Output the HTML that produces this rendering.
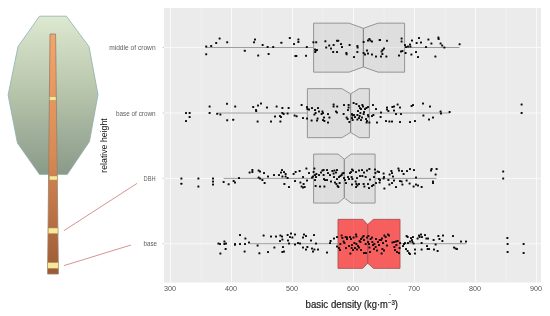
<!DOCTYPE html>
<html><head><meta charset="utf-8"><title>basic density by relative height</title><style>html,body{margin:0;padding:0;background:#fff}svg{display:block}</style></head><body>
<svg width="550" height="316" viewBox="0 0 550 316">
<defs><linearGradient id="cg" x1="0" y1="0" x2="0" y2="1"><stop offset="0" stop-color="#dde9d0"/><stop offset="0.45" stop-color="#b9c7ad"/><stop offset="1" stop-color="#8a9a89"/></linearGradient>
<linearGradient id="tg" x1="0" y1="0" x2="0" y2="1"><stop offset="0" stop-color="#f6a469"/><stop offset="0.5" stop-color="#d98a55"/><stop offset="1" stop-color="#9c5a35"/></linearGradient></defs>
<rect width="550" height="316" fill="#fff"/>
<polygon points="39.5,16.2 66.4,16.2 89,46.6 98,94.6 89.5,141.5 67.3,174.4 39.5,174.4 17.4,143 8.1,95 18,46.6" fill="url(#cg)" stroke="#8fb0ad" stroke-width="0.8"/>
<polygon points="50,34 55.6,34 58.4,274 47.6,274" fill="url(#tg)" stroke="#94806c" stroke-width="0.8"/>
<rect x="49.7" y="96.7" width="6.3" height="3.7" fill="#fbe79a" stroke="#a89468" stroke-width="0.5"/>
<rect x="49.4" y="176" width="7.8" height="4.0" fill="#fbe79a" stroke="#a89468" stroke-width="0.5"/>
<rect x="48.2" y="228" width="9.8" height="5.6" fill="#fbe79a" stroke="#a89468" stroke-width="0.5"/>
<rect x="47.6" y="262.6" width="10.8" height="5.8" fill="#fbe79a" stroke="#a89468" stroke-width="0.5"/>
<line x1="64" y1="230.6" x2="137" y2="183.4" stroke="#cf8888" stroke-width="0.9"/>
<line x1="64" y1="265.6" x2="131" y2="245" stroke="#cf8888" stroke-width="0.9"/>
<rect x="164" y="8" width="377" height="274.5" fill="#ebebeb"/>
<line x1="201.0" y1="8" x2="201.0" y2="282.5" stroke="#f3f3f3" stroke-width="0.6"/>
<line x1="262.0" y1="8" x2="262.0" y2="282.5" stroke="#f3f3f3" stroke-width="0.6"/>
<line x1="323.0" y1="8" x2="323.0" y2="282.5" stroke="#f3f3f3" stroke-width="0.6"/>
<line x1="384.0" y1="8" x2="384.0" y2="282.5" stroke="#f3f3f3" stroke-width="0.6"/>
<line x1="445.0" y1="8" x2="445.0" y2="282.5" stroke="#f3f3f3" stroke-width="0.6"/>
<line x1="506.0" y1="8" x2="506.0" y2="282.5" stroke="#f3f3f3" stroke-width="0.6"/>
<line x1="170.5" y1="8" x2="170.5" y2="282.5" stroke="#fafafa" stroke-width="0.9"/>
<line x1="231.5" y1="8" x2="231.5" y2="282.5" stroke="#fafafa" stroke-width="0.9"/>
<line x1="292.5" y1="8" x2="292.5" y2="282.5" stroke="#fafafa" stroke-width="0.9"/>
<line x1="353.5" y1="8" x2="353.5" y2="282.5" stroke="#fafafa" stroke-width="0.9"/>
<line x1="414.5" y1="8" x2="414.5" y2="282.5" stroke="#fafafa" stroke-width="0.9"/>
<line x1="475.5" y1="8" x2="475.5" y2="282.5" stroke="#fafafa" stroke-width="0.9"/>
<line x1="536.5" y1="8" x2="536.5" y2="282.5" stroke="#fafafa" stroke-width="0.9"/>
<line x1="164" y1="47.5" x2="541" y2="47.5" stroke="#fafafa" stroke-width="0.9"/>
<line x1="162.6" y1="47.5" x2="164" y2="47.5" stroke="#a8a8a8" stroke-width="0.6"/>
<line x1="164" y1="113.0" x2="541" y2="113.0" stroke="#fafafa" stroke-width="0.9"/>
<line x1="162.6" y1="113.0" x2="164" y2="113.0" stroke="#a8a8a8" stroke-width="0.6"/>
<line x1="164" y1="178.4" x2="541" y2="178.4" stroke="#fafafa" stroke-width="0.9"/>
<line x1="162.6" y1="178.4" x2="164" y2="178.4" stroke="#a8a8a8" stroke-width="0.6"/>
<line x1="164" y1="243.7" x2="541" y2="243.7" stroke="#fafafa" stroke-width="0.9"/>
<line x1="162.6" y1="243.7" x2="164" y2="243.7" stroke="#a8a8a8" stroke-width="0.6"/>
<line x1="205.6" y1="47.5" x2="313.6" y2="47.5" stroke="#868686" stroke-width="0.8"/>
<line x1="404.6" y1="47.5" x2="459.5" y2="47.5" stroke="#868686" stroke-width="0.8"/>
<polygon points="313.6,23.15 349,23.15 363.4,28.349999999999998 378,23.15 404.6,23.15 404.6,72.15 378,72.15 363.4,66.95 349,72.15 313.6,72.15" fill="#bebebe" fill-opacity="0.27" stroke="#8c8c8c" stroke-width="0.9"/>
<line x1="363.4" y1="28.349999999999998" x2="363.4" y2="66.95" stroke="#8c8c8c" stroke-width="1.2"/>
<line x1="218" y1="113.0" x2="307.4" y2="113.0" stroke="#868686" stroke-width="0.8"/>
<line x1="369.4" y1="113.0" x2="449.8" y2="113.0" stroke="#868686" stroke-width="0.8"/>
<polygon points="307.4,88.65 342,88.65 350.6,93.85000000000001 359.2,88.65 369.4,88.65 369.4,137.65 359.2,137.65 350.6,132.45000000000002 342,137.65 307.4,137.65" fill="#bebebe" fill-opacity="0.27" stroke="#8c8c8c" stroke-width="0.9"/>
<line x1="350.6" y1="93.85000000000001" x2="350.6" y2="132.45000000000002" stroke="#8c8c8c" stroke-width="1.2"/>
<line x1="223.6" y1="178.4" x2="313.6" y2="178.4" stroke="#868686" stroke-width="0.8"/>
<line x1="375.1" y1="178.4" x2="436.5" y2="178.4" stroke="#868686" stroke-width="0.8"/>
<polygon points="313.6,154.05 338,154.05 344.3,159.25 351.2,154.05 375.1,154.05 375.1,203.05 351.2,203.05 344.3,197.85000000000002 338,203.05 313.6,203.05" fill="#bebebe" fill-opacity="0.27" stroke="#8c8c8c" stroke-width="0.9"/>
<line x1="344.3" y1="159.25" x2="344.3" y2="197.85000000000002" stroke="#8c8c8c" stroke-width="1.2"/>
<line x1="250" y1="243.7" x2="338" y2="243.7" stroke="#868686" stroke-width="0.8"/>
<line x1="400" y1="243.7" x2="466.4" y2="243.7" stroke="#868686" stroke-width="0.8"/>
<polygon points="338,219.35 362.8,219.35 367.7,224.54999999999998 373.4,219.35 400,219.35 400,268.35 373.4,268.35 367.7,263.15000000000003 362.8,268.35 338,268.35" fill="#ff0000" fill-opacity="0.6" stroke="#a85350" stroke-width="0.9"/>
<line x1="367.7" y1="224.54999999999998" x2="367.7" y2="263.15000000000003" stroke="#a85350" stroke-width="1.2"/>
<rect x="205.2" y="45.6" width="2" height="2" rx="0.5" fill="#0c0c0c"/>
<rect x="205.2" y="53.2" width="2" height="2" rx="0.5" fill="#0c0c0c"/>
<rect x="210.2" y="45.0" width="2" height="2" rx="0.5" fill="#0c0c0c"/>
<rect x="215.2" y="42.0" width="2" height="2" rx="0.5" fill="#0c0c0c"/>
<rect x="218.6" y="37.6" width="2" height="2" rx="0.5" fill="#0c0c0c"/>
<rect x="226.2" y="41.2" width="2" height="2" rx="0.5" fill="#0c0c0c"/>
<rect x="243.8" y="49.8" width="2" height="2" rx="0.5" fill="#0c0c0c"/>
<rect x="253.0" y="41.2" width="2" height="2" rx="0.5" fill="#0c0c0c"/>
<rect x="254.0" y="38.6" width="2" height="2" rx="0.5" fill="#0c0c0c"/>
<rect x="257.2" y="54.4" width="2" height="2" rx="0.5" fill="#0c0c0c"/>
<rect x="261.6" y="44.0" width="2" height="2" rx="0.5" fill="#0c0c0c"/>
<rect x="266.6" y="46.0" width="2" height="2" rx="0.5" fill="#0c0c0c"/>
<rect x="267.6" y="53.0" width="2" height="2" rx="0.5" fill="#0c0c0c"/>
<rect x="272.2" y="46.0" width="2" height="2" rx="0.5" fill="#0c0c0c"/>
<rect x="280.4" y="41.8" width="2" height="2" rx="0.5" fill="#0c0c0c"/>
<rect x="288.8" y="37.0" width="2" height="2" rx="0.5" fill="#0c0c0c"/>
<rect x="293.0" y="43.0" width="2" height="2" rx="0.5" fill="#0c0c0c"/>
<rect x="297.4" y="38.4" width="2" height="2" rx="0.5" fill="#0c0c0c"/>
<rect x="297.4" y="41.0" width="2" height="2" rx="0.5" fill="#0c0c0c"/>
<rect x="305.8" y="46.0" width="2" height="2" rx="0.5" fill="#0c0c0c"/>
<rect x="294.4" y="55.0" width="2" height="2" rx="0.5" fill="#0c0c0c"/>
<rect x="295.4" y="55.0" width="2" height="2" rx="0.5" fill="#0c0c0c"/>
<rect x="305.0" y="54.8" width="2" height="2" rx="0.5" fill="#0c0c0c"/>
<rect x="312.4" y="41.2" width="2" height="2" rx="0.5" fill="#0c0c0c"/>
<rect x="315.2" y="41.2" width="2" height="2" rx="0.5" fill="#0c0c0c"/>
<rect x="314.0" y="48.6" width="2" height="2" rx="0.5" fill="#0c0c0c"/>
<rect x="315.0" y="49.4" width="2" height="2" rx="0.5" fill="#0c0c0c"/>
<rect x="316.0" y="49.0" width="2" height="2" rx="0.5" fill="#0c0c0c"/>
<rect x="314.2" y="51.0" width="2" height="2" rx="0.5" fill="#0c0c0c"/>
<rect x="324.4" y="40.2" width="2" height="2" rx="0.5" fill="#0c0c0c"/>
<rect x="325.2" y="46.4" width="2" height="2" rx="0.5" fill="#0c0c0c"/>
<rect x="328.2" y="44.6" width="2" height="2" rx="0.5" fill="#0c0c0c"/>
<rect x="330.0" y="47.4" width="2" height="2" rx="0.5" fill="#0c0c0c"/>
<rect x="332.6" y="44.0" width="2" height="2" rx="0.5" fill="#0c0c0c"/>
<rect x="336.0" y="39.8" width="2" height="2" rx="0.5" fill="#0c0c0c"/>
<rect x="337.2" y="39.8" width="2" height="2" rx="0.5" fill="#0c0c0c"/>
<rect x="340.0" y="43.0" width="2" height="2" rx="0.5" fill="#0c0c0c"/>
<rect x="341.0" y="46.0" width="2" height="2" rx="0.5" fill="#0c0c0c"/>
<rect x="332.2" y="51.0" width="2" height="2" rx="0.5" fill="#0c0c0c"/>
<rect x="336.0" y="51.0" width="2" height="2" rx="0.5" fill="#0c0c0c"/>
<rect x="345.4" y="52.0" width="2" height="2" rx="0.5" fill="#0c0c0c"/>
<rect x="345.6" y="53.2" width="2" height="2" rx="0.5" fill="#0c0c0c"/>
<rect x="348.6" y="44.0" width="2" height="2" rx="0.5" fill="#0c0c0c"/>
<rect x="353.0" y="56.0" width="2" height="2" rx="0.5" fill="#0c0c0c"/>
<rect x="356.4" y="45.0" width="2" height="2" rx="0.5" fill="#0c0c0c"/>
<rect x="356.6" y="46.6" width="2" height="2" rx="0.5" fill="#0c0c0c"/>
<rect x="356.4" y="51.0" width="2" height="2" rx="0.5" fill="#0c0c0c"/>
<rect x="362.6" y="41.0" width="2" height="2" rx="0.5" fill="#0c0c0c"/>
<rect x="362.6" y="52.0" width="2" height="2" rx="0.5" fill="#0c0c0c"/>
<rect x="364.0" y="53.4" width="2" height="2" rx="0.5" fill="#0c0c0c"/>
<rect x="366.0" y="49.4" width="2" height="2" rx="0.5" fill="#0c0c0c"/>
<rect x="367.0" y="52.4" width="2" height="2" rx="0.5" fill="#0c0c0c"/>
<rect x="367.0" y="39.4" width="2" height="2" rx="0.5" fill="#0c0c0c"/>
<rect x="368.4" y="38.0" width="2" height="2" rx="0.5" fill="#0c0c0c"/>
<rect x="369.4" y="39.4" width="2" height="2" rx="0.5" fill="#0c0c0c"/>
<rect x="371.0" y="40.4" width="2" height="2" rx="0.5" fill="#0c0c0c"/>
<rect x="371.0" y="53.6" width="2" height="2" rx="0.5" fill="#0c0c0c"/>
<rect x="375.0" y="55.4" width="2" height="2" rx="0.5" fill="#0c0c0c"/>
<rect x="378.6" y="39.0" width="2" height="2" rx="0.5" fill="#0c0c0c"/>
<rect x="379.0" y="39.0" width="2" height="2" rx="0.5" fill="#0c0c0c"/>
<rect x="386.0" y="39.8" width="2" height="2" rx="0.5" fill="#0c0c0c"/>
<rect x="383.0" y="47.6" width="2" height="2" rx="0.5" fill="#0c0c0c"/>
<rect x="381.6" y="49.0" width="2" height="2" rx="0.5" fill="#0c0c0c"/>
<rect x="380.6" y="50.6" width="2" height="2" rx="0.5" fill="#0c0c0c"/>
<rect x="381.4" y="53.0" width="2" height="2" rx="0.5" fill="#0c0c0c"/>
<rect x="380.0" y="55.6" width="2" height="2" rx="0.5" fill="#0c0c0c"/>
<rect x="385.4" y="55.6" width="2" height="2" rx="0.5" fill="#0c0c0c"/>
<rect x="400.6" y="37.4" width="2" height="2" rx="0.5" fill="#0c0c0c"/>
<rect x="400.6" y="40.6" width="2" height="2" rx="0.5" fill="#0c0c0c"/>
<rect x="398.0" y="54.6" width="2" height="2" rx="0.5" fill="#0c0c0c"/>
<rect x="400.0" y="50.6" width="2" height="2" rx="0.5" fill="#0c0c0c"/>
<rect x="401.4" y="50.0" width="2" height="2" rx="0.5" fill="#0c0c0c"/>
<rect x="404.0" y="44.0" width="2" height="2" rx="0.5" fill="#0c0c0c"/>
<rect x="405.0" y="46.0" width="2" height="2" rx="0.5" fill="#0c0c0c"/>
<rect x="404.6" y="52.0" width="2" height="2" rx="0.5" fill="#0c0c0c"/>
<rect x="407.0" y="45.4" width="2" height="2" rx="0.5" fill="#0c0c0c"/>
<rect x="409.0" y="43.6" width="2" height="2" rx="0.5" fill="#0c0c0c"/>
<rect x="409.4" y="45.4" width="2" height="2" rx="0.5" fill="#0c0c0c"/>
<rect x="410.4" y="53.4" width="2" height="2" rx="0.5" fill="#0c0c0c"/>
<rect x="411.0" y="39.4" width="2" height="2" rx="0.5" fill="#0c0c0c"/>
<rect x="415.6" y="42.0" width="2" height="2" rx="0.5" fill="#0c0c0c"/>
<rect x="415.0" y="51.0" width="2" height="2" rx="0.5" fill="#0c0c0c"/>
<rect x="417.0" y="56.0" width="2" height="2" rx="0.5" fill="#0c0c0c"/>
<rect x="418.0" y="37.0" width="2" height="2" rx="0.5" fill="#0c0c0c"/>
<rect x="420.0" y="41.6" width="2" height="2" rx="0.5" fill="#0c0c0c"/>
<rect x="425.0" y="46.0" width="2" height="2" rx="0.5" fill="#0c0c0c"/>
<rect x="427.4" y="38.6" width="2" height="2" rx="0.5" fill="#0c0c0c"/>
<rect x="430.4" y="42.6" width="2" height="2" rx="0.5" fill="#0c0c0c"/>
<rect x="434.4" y="55.4" width="2" height="2" rx="0.5" fill="#0c0c0c"/>
<rect x="437.4" y="36.6" width="2" height="2" rx="0.5" fill="#0c0c0c"/>
<rect x="437.6" y="38.0" width="2" height="2" rx="0.5" fill="#0c0c0c"/>
<rect x="439.6" y="42.6" width="2" height="2" rx="0.5" fill="#0c0c0c"/>
<rect x="441.2" y="44.6" width="2" height="2" rx="0.5" fill="#0c0c0c"/>
<rect x="443.4" y="46.4" width="2" height="2" rx="0.5" fill="#0c0c0c"/>
<rect x="458.6" y="43.2" width="2" height="2" rx="0.5" fill="#0c0c0c"/>
<rect x="185.0" y="112.0" width="2" height="2" rx="0.5" fill="#0c0c0c"/>
<rect x="188.6" y="112.0" width="2" height="2" rx="0.5" fill="#0c0c0c"/>
<rect x="188.6" y="116.0" width="2" height="2" rx="0.5" fill="#0c0c0c"/>
<rect x="185.0" y="120.0" width="2" height="2" rx="0.5" fill="#0c0c0c"/>
<rect x="208.6" y="105.4" width="2" height="2" rx="0.5" fill="#0c0c0c"/>
<rect x="208.6" y="112.0" width="2" height="2" rx="0.5" fill="#0c0c0c"/>
<rect x="216.2" y="112.8" width="2" height="2" rx="0.5" fill="#0c0c0c"/>
<rect x="219.4" y="113.6" width="2" height="2" rx="0.5" fill="#0c0c0c"/>
<rect x="226.0" y="102.8" width="2" height="2" rx="0.5" fill="#0c0c0c"/>
<rect x="234.2" y="105.4" width="2" height="2" rx="0.5" fill="#0c0c0c"/>
<rect x="226.2" y="119.2" width="2" height="2" rx="0.5" fill="#0c0c0c"/>
<rect x="232.2" y="118.8" width="2" height="2" rx="0.5" fill="#0c0c0c"/>
<rect x="252.2" y="106.0" width="2" height="2" rx="0.5" fill="#0c0c0c"/>
<rect x="255.0" y="109.0" width="2" height="2" rx="0.5" fill="#0c0c0c"/>
<rect x="255.2" y="110.0" width="2" height="2" rx="0.5" fill="#0c0c0c"/>
<rect x="257.0" y="104.4" width="2" height="2" rx="0.5" fill="#0c0c0c"/>
<rect x="260.0" y="102.4" width="2" height="2" rx="0.5" fill="#0c0c0c"/>
<rect x="266.0" y="106.4" width="2" height="2" rx="0.5" fill="#0c0c0c"/>
<rect x="256.6" y="120.6" width="2" height="2" rx="0.5" fill="#0c0c0c"/>
<rect x="270.0" y="120.6" width="2" height="2" rx="0.5" fill="#0c0c0c"/>
<rect x="274.0" y="115.6" width="2" height="2" rx="0.5" fill="#0c0c0c"/>
<rect x="275.6" y="105.6" width="2" height="2" rx="0.5" fill="#0c0c0c"/>
<rect x="279.0" y="115.0" width="2" height="2" rx="0.5" fill="#0c0c0c"/>
<rect x="280.0" y="116.0" width="2" height="2" rx="0.5" fill="#0c0c0c"/>
<rect x="279.4" y="120.4" width="2" height="2" rx="0.5" fill="#0c0c0c"/>
<rect x="281.4" y="107.0" width="2" height="2" rx="0.5" fill="#0c0c0c"/>
<rect x="281.4" y="112.0" width="2" height="2" rx="0.5" fill="#0c0c0c"/>
<rect x="282.6" y="113.0" width="2" height="2" rx="0.5" fill="#0c0c0c"/>
<rect x="286.6" y="112.6" width="2" height="2" rx="0.5" fill="#0c0c0c"/>
<rect x="287.6" y="107.0" width="2" height="2" rx="0.5" fill="#0c0c0c"/>
<rect x="293.6" y="114.4" width="2" height="2" rx="0.5" fill="#0c0c0c"/>
<rect x="295.6" y="115.2" width="2" height="2" rx="0.5" fill="#0c0c0c"/>
<rect x="300.6" y="104.0" width="2" height="2" rx="0.5" fill="#0c0c0c"/>
<rect x="302.0" y="117.0" width="2" height="2" rx="0.5" fill="#0c0c0c"/>
<rect x="306.0" y="106.0" width="2" height="2" rx="0.5" fill="#0c0c0c"/>
<rect x="306.4" y="108.0" width="2" height="2" rx="0.5" fill="#0c0c0c"/>
<rect x="308.0" y="108.6" width="2" height="2" rx="0.5" fill="#0c0c0c"/>
<rect x="306.0" y="117.6" width="2" height="2" rx="0.5" fill="#0c0c0c"/>
<rect x="310.6" y="119.6" width="2" height="2" rx="0.5" fill="#0c0c0c"/>
<rect x="311.0" y="107.0" width="2" height="2" rx="0.5" fill="#0c0c0c"/>
<rect x="314.0" y="109.0" width="2" height="2" rx="0.5" fill="#0c0c0c"/>
<rect x="314.6" y="112.0" width="2" height="2" rx="0.5" fill="#0c0c0c"/>
<rect x="313.4" y="113.4" width="2" height="2" rx="0.5" fill="#0c0c0c"/>
<rect x="317.0" y="107.0" width="2" height="2" rx="0.5" fill="#0c0c0c"/>
<rect x="318.0" y="110.4" width="2" height="2" rx="0.5" fill="#0c0c0c"/>
<rect x="316.6" y="117.6" width="2" height="2" rx="0.5" fill="#0c0c0c"/>
<rect x="316.0" y="119.4" width="2" height="2" rx="0.5" fill="#0c0c0c"/>
<rect x="321.4" y="110.4" width="2" height="2" rx="0.5" fill="#0c0c0c"/>
<rect x="322.0" y="112.0" width="2" height="2" rx="0.5" fill="#0c0c0c"/>
<rect x="320.6" y="113.0" width="2" height="2" rx="0.5" fill="#0c0c0c"/>
<rect x="323.0" y="116.6" width="2" height="2" rx="0.5" fill="#0c0c0c"/>
<rect x="322.0" y="119.0" width="2" height="2" rx="0.5" fill="#0c0c0c"/>
<rect x="323.4" y="120.0" width="2" height="2" rx="0.5" fill="#0c0c0c"/>
<rect x="327.0" y="113.0" width="2" height="2" rx="0.5" fill="#0c0c0c"/>
<rect x="328.4" y="116.4" width="2" height="2" rx="0.5" fill="#0c0c0c"/>
<rect x="327.0" y="121.6" width="2" height="2" rx="0.5" fill="#0c0c0c"/>
<rect x="332.6" y="103.6" width="2" height="2" rx="0.5" fill="#0c0c0c"/>
<rect x="332.6" y="105.6" width="2" height="2" rx="0.5" fill="#0c0c0c"/>
<rect x="335.0" y="110.4" width="2" height="2" rx="0.5" fill="#0c0c0c"/>
<rect x="336.0" y="111.6" width="2" height="2" rx="0.5" fill="#0c0c0c"/>
<rect x="336.2" y="105.6" width="2" height="2" rx="0.5" fill="#0c0c0c"/>
<rect x="343.0" y="104.0" width="2" height="2" rx="0.5" fill="#0c0c0c"/>
<rect x="342.6" y="113.0" width="2" height="2" rx="0.5" fill="#0c0c0c"/>
<rect x="345.6" y="116.6" width="2" height="2" rx="0.5" fill="#0c0c0c"/>
<rect x="346.6" y="118.0" width="2" height="2" rx="0.5" fill="#0c0c0c"/>
<rect x="347.6" y="106.6" width="2" height="2" rx="0.5" fill="#0c0c0c"/>
<rect x="347.6" y="104.0" width="2" height="2" rx="0.5" fill="#0c0c0c"/>
<rect x="347.0" y="109.0" width="2" height="2" rx="0.5" fill="#0c0c0c"/>
<rect x="348.4" y="121.0" width="2" height="2" rx="0.5" fill="#0c0c0c"/>
<rect x="351.0" y="113.0" width="2" height="2" rx="0.5" fill="#0c0c0c"/>
<rect x="351.4" y="114.4" width="2" height="2" rx="0.5" fill="#0c0c0c"/>
<rect x="351.0" y="117.0" width="2" height="2" rx="0.5" fill="#0c0c0c"/>
<rect x="351.6" y="119.0" width="2" height="2" rx="0.5" fill="#0c0c0c"/>
<rect x="352.6" y="102.0" width="2" height="2" rx="0.5" fill="#0c0c0c"/>
<rect x="353.0" y="114.0" width="2" height="2" rx="0.5" fill="#0c0c0c"/>
<rect x="354.0" y="116.0" width="2" height="2" rx="0.5" fill="#0c0c0c"/>
<rect x="355.4" y="103.0" width="2" height="2" rx="0.5" fill="#0c0c0c"/>
<rect x="356.4" y="114.0" width="2" height="2" rx="0.5" fill="#0c0c0c"/>
<rect x="357.0" y="110.0" width="2" height="2" rx="0.5" fill="#0c0c0c"/>
<rect x="356.4" y="118.4" width="2" height="2" rx="0.5" fill="#0c0c0c"/>
<rect x="358.0" y="105.0" width="2" height="2" rx="0.5" fill="#0c0c0c"/>
<rect x="359.0" y="107.0" width="2" height="2" rx="0.5" fill="#0c0c0c"/>
<rect x="360.0" y="108.0" width="2" height="2" rx="0.5" fill="#0c0c0c"/>
<rect x="359.4" y="112.0" width="2" height="2" rx="0.5" fill="#0c0c0c"/>
<rect x="358.6" y="115.0" width="2" height="2" rx="0.5" fill="#0c0c0c"/>
<rect x="358.0" y="117.0" width="2" height="2" rx="0.5" fill="#0c0c0c"/>
<rect x="360.0" y="119.0" width="2" height="2" rx="0.5" fill="#0c0c0c"/>
<rect x="361.4" y="104.0" width="2" height="2" rx="0.5" fill="#0c0c0c"/>
<rect x="362.0" y="105.6" width="2" height="2" rx="0.5" fill="#0c0c0c"/>
<rect x="363.0" y="111.0" width="2" height="2" rx="0.5" fill="#0c0c0c"/>
<rect x="362.6" y="113.0" width="2" height="2" rx="0.5" fill="#0c0c0c"/>
<rect x="361.0" y="116.4" width="2" height="2" rx="0.5" fill="#0c0c0c"/>
<rect x="364.0" y="108.0" width="2" height="2" rx="0.5" fill="#0c0c0c"/>
<rect x="365.4" y="107.0" width="2" height="2" rx="0.5" fill="#0c0c0c"/>
<rect x="367.0" y="106.0" width="2" height="2" rx="0.5" fill="#0c0c0c"/>
<rect x="365.0" y="118.0" width="2" height="2" rx="0.5" fill="#0c0c0c"/>
<rect x="366.0" y="120.0" width="2" height="2" rx="0.5" fill="#0c0c0c"/>
<rect x="365.6" y="121.6" width="2" height="2" rx="0.5" fill="#0c0c0c"/>
<rect x="367.0" y="114.0" width="2" height="2" rx="0.5" fill="#0c0c0c"/>
<rect x="367.4" y="115.6" width="2" height="2" rx="0.5" fill="#0c0c0c"/>
<rect x="368.4" y="121.4" width="2" height="2" rx="0.5" fill="#0c0c0c"/>
<rect x="371.0" y="115.0" width="2" height="2" rx="0.5" fill="#0c0c0c"/>
<rect x="372.4" y="114.0" width="2" height="2" rx="0.5" fill="#0c0c0c"/>
<rect x="372.0" y="104.0" width="2" height="2" rx="0.5" fill="#0c0c0c"/>
<rect x="375.0" y="108.0" width="2" height="2" rx="0.5" fill="#0c0c0c"/>
<rect x="376.0" y="121.4" width="2" height="2" rx="0.5" fill="#0c0c0c"/>
<rect x="380.0" y="111.4" width="2" height="2" rx="0.5" fill="#0c0c0c"/>
<rect x="379.6" y="116.0" width="2" height="2" rx="0.5" fill="#0c0c0c"/>
<rect x="386.0" y="106.4" width="2" height="2" rx="0.5" fill="#0c0c0c"/>
<rect x="386.0" y="108.6" width="2" height="2" rx="0.5" fill="#0c0c0c"/>
<rect x="387.4" y="110.0" width="2" height="2" rx="0.5" fill="#0c0c0c"/>
<rect x="385.0" y="120.0" width="2" height="2" rx="0.5" fill="#0c0c0c"/>
<rect x="388.4" y="120.4" width="2" height="2" rx="0.5" fill="#0c0c0c"/>
<rect x="391.0" y="120.4" width="2" height="2" rx="0.5" fill="#0c0c0c"/>
<rect x="391.4" y="106.0" width="2" height="2" rx="0.5" fill="#0c0c0c"/>
<rect x="393.0" y="105.6" width="2" height="2" rx="0.5" fill="#0c0c0c"/>
<rect x="393.0" y="109.6" width="2" height="2" rx="0.5" fill="#0c0c0c"/>
<rect x="395.0" y="113.0" width="2" height="2" rx="0.5" fill="#0c0c0c"/>
<rect x="396.6" y="103.4" width="2" height="2" rx="0.5" fill="#0c0c0c"/>
<rect x="399.0" y="106.6" width="2" height="2" rx="0.5" fill="#0c0c0c"/>
<rect x="400.0" y="113.0" width="2" height="2" rx="0.5" fill="#0c0c0c"/>
<rect x="399.0" y="121.0" width="2" height="2" rx="0.5" fill="#0c0c0c"/>
<rect x="409.0" y="121.0" width="2" height="2" rx="0.5" fill="#0c0c0c"/>
<rect x="410.6" y="105.0" width="2" height="2" rx="0.5" fill="#0c0c0c"/>
<rect x="412.0" y="104.0" width="2" height="2" rx="0.5" fill="#0c0c0c"/>
<rect x="414.0" y="120.0" width="2" height="2" rx="0.5" fill="#0c0c0c"/>
<rect x="422.0" y="102.6" width="2" height="2" rx="0.5" fill="#0c0c0c"/>
<rect x="422.4" y="114.4" width="2" height="2" rx="0.5" fill="#0c0c0c"/>
<rect x="428.0" y="118.6" width="2" height="2" rx="0.5" fill="#0c0c0c"/>
<rect x="429.0" y="105.4" width="2" height="2" rx="0.5" fill="#0c0c0c"/>
<rect x="432.0" y="116.4" width="2" height="2" rx="0.5" fill="#0c0c0c"/>
<rect x="439.6" y="110.4" width="2" height="2" rx="0.5" fill="#0c0c0c"/>
<rect x="440.0" y="112.6" width="2" height="2" rx="0.5" fill="#0c0c0c"/>
<rect x="448.6" y="111.0" width="2" height="2" rx="0.5" fill="#0c0c0c"/>
<rect x="520.6" y="103.6" width="2" height="2" rx="0.5" fill="#0c0c0c"/>
<rect x="520.6" y="112.0" width="2" height="2" rx="0.5" fill="#0c0c0c"/>
<rect x="180.4" y="177.6" width="2" height="2" rx="0.5" fill="#0c0c0c"/>
<rect x="180.4" y="182.8" width="2" height="2" rx="0.5" fill="#0c0c0c"/>
<rect x="197.4" y="177.6" width="2" height="2" rx="0.5" fill="#0c0c0c"/>
<rect x="197.4" y="185.6" width="2" height="2" rx="0.5" fill="#0c0c0c"/>
<rect x="212.0" y="177.6" width="2" height="2" rx="0.5" fill="#0c0c0c"/>
<rect x="212.0" y="180.4" width="2" height="2" rx="0.5" fill="#0c0c0c"/>
<rect x="212.0" y="183.6" width="2" height="2" rx="0.5" fill="#0c0c0c"/>
<rect x="222.6" y="181.0" width="2" height="2" rx="0.5" fill="#0c0c0c"/>
<rect x="227.6" y="183.2" width="2" height="2" rx="0.5" fill="#0c0c0c"/>
<rect x="232.6" y="180.0" width="2" height="2" rx="0.5" fill="#0c0c0c"/>
<rect x="234.0" y="181.6" width="2" height="2" rx="0.5" fill="#0c0c0c"/>
<rect x="238.0" y="177.0" width="2" height="2" rx="0.5" fill="#0c0c0c"/>
<rect x="248.6" y="171.6" width="2" height="2" rx="0.5" fill="#0c0c0c"/>
<rect x="251.4" y="169.0" width="2" height="2" rx="0.5" fill="#0c0c0c"/>
<rect x="251.4" y="171.0" width="2" height="2" rx="0.5" fill="#0c0c0c"/>
<rect x="257.6" y="169.4" width="2" height="2" rx="0.5" fill="#0c0c0c"/>
<rect x="259.0" y="170.4" width="2" height="2" rx="0.5" fill="#0c0c0c"/>
<rect x="263.0" y="172.0" width="2" height="2" rx="0.5" fill="#0c0c0c"/>
<rect x="257.6" y="176.6" width="2" height="2" rx="0.5" fill="#0c0c0c"/>
<rect x="259.0" y="177.4" width="2" height="2" rx="0.5" fill="#0c0c0c"/>
<rect x="261.4" y="179.0" width="2" height="2" rx="0.5" fill="#0c0c0c"/>
<rect x="263.6" y="182.0" width="2" height="2" rx="0.5" fill="#0c0c0c"/>
<rect x="267.0" y="175.4" width="2" height="2" rx="0.5" fill="#0c0c0c"/>
<rect x="273.0" y="174.0" width="2" height="2" rx="0.5" fill="#0c0c0c"/>
<rect x="278.0" y="174.0" width="2" height="2" rx="0.5" fill="#0c0c0c"/>
<rect x="281.0" y="169.0" width="2" height="2" rx="0.5" fill="#0c0c0c"/>
<rect x="280.0" y="171.6" width="2" height="2" rx="0.5" fill="#0c0c0c"/>
<rect x="283.0" y="171.0" width="2" height="2" rx="0.5" fill="#0c0c0c"/>
<rect x="284.6" y="173.0" width="2" height="2" rx="0.5" fill="#0c0c0c"/>
<rect x="281.4" y="175.6" width="2" height="2" rx="0.5" fill="#0c0c0c"/>
<rect x="284.6" y="175.6" width="2" height="2" rx="0.5" fill="#0c0c0c"/>
<rect x="286.6" y="177.0" width="2" height="2" rx="0.5" fill="#0c0c0c"/>
<rect x="283.4" y="183.0" width="2" height="2" rx="0.5" fill="#0c0c0c"/>
<rect x="288.0" y="186.0" width="2" height="2" rx="0.5" fill="#0c0c0c"/>
<rect x="292.6" y="173.0" width="2" height="2" rx="0.5" fill="#0c0c0c"/>
<rect x="294.6" y="171.0" width="2" height="2" rx="0.5" fill="#0c0c0c"/>
<rect x="294.0" y="180.0" width="2" height="2" rx="0.5" fill="#0c0c0c"/>
<rect x="298.6" y="170.0" width="2" height="2" rx="0.5" fill="#0c0c0c"/>
<rect x="299.4" y="181.6" width="2" height="2" rx="0.5" fill="#0c0c0c"/>
<rect x="302.0" y="176.0" width="2" height="2" rx="0.5" fill="#0c0c0c"/>
<rect x="300.6" y="185.6" width="2" height="2" rx="0.5" fill="#0c0c0c"/>
<rect x="302.0" y="186.6" width="2" height="2" rx="0.5" fill="#0c0c0c"/>
<rect x="303.6" y="186.0" width="2" height="2" rx="0.5" fill="#0c0c0c"/>
<rect x="302.6" y="183.0" width="2" height="2" rx="0.5" fill="#0c0c0c"/>
<rect x="305.4" y="167.6" width="2" height="2" rx="0.5" fill="#0c0c0c"/>
<rect x="306.0" y="179.6" width="2" height="2" rx="0.5" fill="#0c0c0c"/>
<rect x="308.0" y="172.0" width="2" height="2" rx="0.5" fill="#0c0c0c"/>
<rect x="311.0" y="176.4" width="2" height="2" rx="0.5" fill="#0c0c0c"/>
<rect x="312.0" y="175.6" width="2" height="2" rx="0.5" fill="#0c0c0c"/>
<rect x="312.6" y="171.0" width="2" height="2" rx="0.5" fill="#0c0c0c"/>
<rect x="313.4" y="167.6" width="2" height="2" rx="0.5" fill="#0c0c0c"/>
<rect x="314.0" y="174.0" width="2" height="2" rx="0.5" fill="#0c0c0c"/>
<rect x="315.0" y="176.0" width="2" height="2" rx="0.5" fill="#0c0c0c"/>
<rect x="314.0" y="179.0" width="2" height="2" rx="0.5" fill="#0c0c0c"/>
<rect x="315.4" y="173.0" width="2" height="2" rx="0.5" fill="#0c0c0c"/>
<rect x="314.6" y="185.0" width="2" height="2" rx="0.5" fill="#0c0c0c"/>
<rect x="318.0" y="174.0" width="2" height="2" rx="0.5" fill="#0c0c0c"/>
<rect x="319.0" y="185.4" width="2" height="2" rx="0.5" fill="#0c0c0c"/>
<rect x="320.0" y="171.6" width="2" height="2" rx="0.5" fill="#0c0c0c"/>
<rect x="321.4" y="169.6" width="2" height="2" rx="0.5" fill="#0c0c0c"/>
<rect x="322.6" y="169.0" width="2" height="2" rx="0.5" fill="#0c0c0c"/>
<rect x="322.6" y="174.0" width="2" height="2" rx="0.5" fill="#0c0c0c"/>
<rect x="323.0" y="178.0" width="2" height="2" rx="0.5" fill="#0c0c0c"/>
<rect x="324.0" y="179.0" width="2" height="2" rx="0.5" fill="#0c0c0c"/>
<rect x="323.4" y="185.6" width="2" height="2" rx="0.5" fill="#0c0c0c"/>
<rect x="326.0" y="169.0" width="2" height="2" rx="0.5" fill="#0c0c0c"/>
<rect x="327.0" y="172.0" width="2" height="2" rx="0.5" fill="#0c0c0c"/>
<rect x="326.0" y="179.0" width="2" height="2" rx="0.5" fill="#0c0c0c"/>
<rect x="329.0" y="174.0" width="2" height="2" rx="0.5" fill="#0c0c0c"/>
<rect x="330.0" y="180.4" width="2" height="2" rx="0.5" fill="#0c0c0c"/>
<rect x="331.4" y="170.0" width="2" height="2" rx="0.5" fill="#0c0c0c"/>
<rect x="332.6" y="172.6" width="2" height="2" rx="0.5" fill="#0c0c0c"/>
<rect x="333.4" y="169.6" width="2" height="2" rx="0.5" fill="#0c0c0c"/>
<rect x="333.0" y="176.0" width="2" height="2" rx="0.5" fill="#0c0c0c"/>
<rect x="335.0" y="171.6" width="2" height="2" rx="0.5" fill="#0c0c0c"/>
<rect x="334.0" y="181.6" width="2" height="2" rx="0.5" fill="#0c0c0c"/>
<rect x="335.4" y="183.0" width="2" height="2" rx="0.5" fill="#0c0c0c"/>
<rect x="336.0" y="178.0" width="2" height="2" rx="0.5" fill="#0c0c0c"/>
<rect x="336.6" y="185.0" width="2" height="2" rx="0.5" fill="#0c0c0c"/>
<rect x="337.4" y="186.0" width="2" height="2" rx="0.5" fill="#0c0c0c"/>
<rect x="336.0" y="169.0" width="2" height="2" rx="0.5" fill="#0c0c0c"/>
<rect x="338.0" y="176.0" width="2" height="2" rx="0.5" fill="#0c0c0c"/>
<rect x="338.6" y="182.0" width="2" height="2" rx="0.5" fill="#0c0c0c"/>
<rect x="339.4" y="175.0" width="2" height="2" rx="0.5" fill="#0c0c0c"/>
<rect x="340.6" y="174.0" width="2" height="2" rx="0.5" fill="#0c0c0c"/>
<rect x="341.4" y="172.6" width="2" height="2" rx="0.5" fill="#0c0c0c"/>
<rect x="342.6" y="172.0" width="2" height="2" rx="0.5" fill="#0c0c0c"/>
<rect x="343.0" y="177.0" width="2" height="2" rx="0.5" fill="#0c0c0c"/>
<rect x="344.0" y="179.0" width="2" height="2" rx="0.5" fill="#0c0c0c"/>
<rect x="345.0" y="182.0" width="2" height="2" rx="0.5" fill="#0c0c0c"/>
<rect x="347.0" y="176.0" width="2" height="2" rx="0.5" fill="#0c0c0c"/>
<rect x="348.0" y="178.0" width="2" height="2" rx="0.5" fill="#0c0c0c"/>
<rect x="349.0" y="172.0" width="2" height="2" rx="0.5" fill="#0c0c0c"/>
<rect x="350.0" y="171.0" width="2" height="2" rx="0.5" fill="#0c0c0c"/>
<rect x="351.0" y="168.4" width="2" height="2" rx="0.5" fill="#0c0c0c"/>
<rect x="350.6" y="176.0" width="2" height="2" rx="0.5" fill="#0c0c0c"/>
<rect x="351.4" y="178.0" width="2" height="2" rx="0.5" fill="#0c0c0c"/>
<rect x="351.0" y="183.6" width="2" height="2" rx="0.5" fill="#0c0c0c"/>
<rect x="352.0" y="169.6" width="2" height="2" rx="0.5" fill="#0c0c0c"/>
<rect x="355.0" y="171.0" width="2" height="2" rx="0.5" fill="#0c0c0c"/>
<rect x="354.6" y="180.4" width="2" height="2" rx="0.5" fill="#0c0c0c"/>
<rect x="355.4" y="183.0" width="2" height="2" rx="0.5" fill="#0c0c0c"/>
<rect x="355.0" y="186.0" width="2" height="2" rx="0.5" fill="#0c0c0c"/>
<rect x="356.4" y="184.6" width="2" height="2" rx="0.5" fill="#0c0c0c"/>
<rect x="356.0" y="177.0" width="2" height="2" rx="0.5" fill="#0c0c0c"/>
<rect x="358.0" y="169.6" width="2" height="2" rx="0.5" fill="#0c0c0c"/>
<rect x="359.0" y="175.0" width="2" height="2" rx="0.5" fill="#0c0c0c"/>
<rect x="358.0" y="183.0" width="2" height="2" rx="0.5" fill="#0c0c0c"/>
<rect x="361.0" y="169.0" width="2" height="2" rx="0.5" fill="#0c0c0c"/>
<rect x="361.4" y="175.0" width="2" height="2" rx="0.5" fill="#0c0c0c"/>
<rect x="363.0" y="171.6" width="2" height="2" rx="0.5" fill="#0c0c0c"/>
<rect x="362.6" y="183.0" width="2" height="2" rx="0.5" fill="#0c0c0c"/>
<rect x="363.4" y="185.6" width="2" height="2" rx="0.5" fill="#0c0c0c"/>
<rect x="364.6" y="176.0" width="2" height="2" rx="0.5" fill="#0c0c0c"/>
<rect x="366.0" y="169.6" width="2" height="2" rx="0.5" fill="#0c0c0c"/>
<rect x="367.0" y="183.0" width="2" height="2" rx="0.5" fill="#0c0c0c"/>
<rect x="368.0" y="187.0" width="2" height="2" rx="0.5" fill="#0c0c0c"/>
<rect x="368.4" y="168.0" width="2" height="2" rx="0.5" fill="#0c0c0c"/>
<rect x="369.0" y="178.4" width="2" height="2" rx="0.5" fill="#0c0c0c"/>
<rect x="371.0" y="185.0" width="2" height="2" rx="0.5" fill="#0c0c0c"/>
<rect x="372.4" y="184.0" width="2" height="2" rx="0.5" fill="#0c0c0c"/>
<rect x="373.0" y="176.0" width="2" height="2" rx="0.5" fill="#0c0c0c"/>
<rect x="374.0" y="168.4" width="2" height="2" rx="0.5" fill="#0c0c0c"/>
<rect x="374.4" y="172.0" width="2" height="2" rx="0.5" fill="#0c0c0c"/>
<rect x="375.0" y="182.0" width="2" height="2" rx="0.5" fill="#0c0c0c"/>
<rect x="376.6" y="170.4" width="2" height="2" rx="0.5" fill="#0c0c0c"/>
<rect x="378.0" y="171.0" width="2" height="2" rx="0.5" fill="#0c0c0c"/>
<rect x="378.0" y="178.0" width="2" height="2" rx="0.5" fill="#0c0c0c"/>
<rect x="378.6" y="181.6" width="2" height="2" rx="0.5" fill="#0c0c0c"/>
<rect x="379.0" y="179.0" width="2" height="2" rx="0.5" fill="#0c0c0c"/>
<rect x="382.6" y="172.6" width="2" height="2" rx="0.5" fill="#0c0c0c"/>
<rect x="383.0" y="176.0" width="2" height="2" rx="0.5" fill="#0c0c0c"/>
<rect x="382.6" y="177.4" width="2" height="2" rx="0.5" fill="#0c0c0c"/>
<rect x="383.4" y="187.4" width="2" height="2" rx="0.5" fill="#0c0c0c"/>
<rect x="387.4" y="179.0" width="2" height="2" rx="0.5" fill="#0c0c0c"/>
<rect x="388.6" y="173.6" width="2" height="2" rx="0.5" fill="#0c0c0c"/>
<rect x="388.4" y="183.6" width="2" height="2" rx="0.5" fill="#0c0c0c"/>
<rect x="390.4" y="170.0" width="2" height="2" rx="0.5" fill="#0c0c0c"/>
<rect x="391.0" y="172.0" width="2" height="2" rx="0.5" fill="#0c0c0c"/>
<rect x="392.0" y="175.6" width="2" height="2" rx="0.5" fill="#0c0c0c"/>
<rect x="391.0" y="182.0" width="2" height="2" rx="0.5" fill="#0c0c0c"/>
<rect x="393.0" y="179.6" width="2" height="2" rx="0.5" fill="#0c0c0c"/>
<rect x="395.0" y="186.0" width="2" height="2" rx="0.5" fill="#0c0c0c"/>
<rect x="397.4" y="167.6" width="2" height="2" rx="0.5" fill="#0c0c0c"/>
<rect x="398.0" y="169.6" width="2" height="2" rx="0.5" fill="#0c0c0c"/>
<rect x="399.0" y="180.0" width="2" height="2" rx="0.5" fill="#0c0c0c"/>
<rect x="400.6" y="180.4" width="2" height="2" rx="0.5" fill="#0c0c0c"/>
<rect x="401.0" y="170.0" width="2" height="2" rx="0.5" fill="#0c0c0c"/>
<rect x="401.4" y="183.4" width="2" height="2" rx="0.5" fill="#0c0c0c"/>
<rect x="402.6" y="173.0" width="2" height="2" rx="0.5" fill="#0c0c0c"/>
<rect x="405.6" y="179.6" width="2" height="2" rx="0.5" fill="#0c0c0c"/>
<rect x="406.0" y="170.0" width="2" height="2" rx="0.5" fill="#0c0c0c"/>
<rect x="408.6" y="182.6" width="2" height="2" rx="0.5" fill="#0c0c0c"/>
<rect x="409.0" y="168.0" width="2" height="2" rx="0.5" fill="#0c0c0c"/>
<rect x="412.6" y="185.6" width="2" height="2" rx="0.5" fill="#0c0c0c"/>
<rect x="413.0" y="169.0" width="2" height="2" rx="0.5" fill="#0c0c0c"/>
<rect x="415.0" y="176.6" width="2" height="2" rx="0.5" fill="#0c0c0c"/>
<rect x="415.0" y="183.6" width="2" height="2" rx="0.5" fill="#0c0c0c"/>
<rect x="417.0" y="184.6" width="2" height="2" rx="0.5" fill="#0c0c0c"/>
<rect x="420.6" y="186.0" width="2" height="2" rx="0.5" fill="#0c0c0c"/>
<rect x="430.0" y="169.6" width="2" height="2" rx="0.5" fill="#0c0c0c"/>
<rect x="430.6" y="168.0" width="2" height="2" rx="0.5" fill="#0c0c0c"/>
<rect x="432.0" y="180.4" width="2" height="2" rx="0.5" fill="#0c0c0c"/>
<rect x="432.0" y="182.0" width="2" height="2" rx="0.5" fill="#0c0c0c"/>
<rect x="434.6" y="173.6" width="2" height="2" rx="0.5" fill="#0c0c0c"/>
<rect x="435.6" y="168.0" width="2" height="2" rx="0.5" fill="#0c0c0c"/>
<rect x="502.2" y="170.6" width="2" height="2" rx="0.5" fill="#0c0c0c"/>
<rect x="502.2" y="177.6" width="2" height="2" rx="0.5" fill="#0c0c0c"/>
<rect x="217.4" y="242.6" width="2" height="2" rx="0.5" fill="#0c0c0c"/>
<rect x="219.0" y="243.0" width="2" height="2" rx="0.5" fill="#0c0c0c"/>
<rect x="223.4" y="240.6" width="2" height="2" rx="0.5" fill="#0c0c0c"/>
<rect x="223.4" y="243.0" width="2" height="2" rx="0.5" fill="#0c0c0c"/>
<rect x="225.0" y="242.6" width="2" height="2" rx="0.5" fill="#0c0c0c"/>
<rect x="224.6" y="248.0" width="2" height="2" rx="0.5" fill="#0c0c0c"/>
<rect x="219.4" y="252.6" width="2" height="2" rx="0.5" fill="#0c0c0c"/>
<rect x="234.0" y="243.0" width="2" height="2" rx="0.5" fill="#0c0c0c"/>
<rect x="234.0" y="243.8" width="2" height="2" rx="0.5" fill="#0c0c0c"/>
<rect x="239.0" y="234.0" width="2" height="2" rx="0.5" fill="#0c0c0c"/>
<rect x="239.0" y="243.0" width="2" height="2" rx="0.5" fill="#0c0c0c"/>
<rect x="244.0" y="243.0" width="2" height="2" rx="0.5" fill="#0c0c0c"/>
<rect x="244.4" y="237.6" width="2" height="2" rx="0.5" fill="#0c0c0c"/>
<rect x="248.0" y="241.6" width="2" height="2" rx="0.5" fill="#0c0c0c"/>
<rect x="243.6" y="250.4" width="2" height="2" rx="0.5" fill="#0c0c0c"/>
<rect x="256.6" y="244.6" width="2" height="2" rx="0.5" fill="#0c0c0c"/>
<rect x="258.4" y="252.2" width="2" height="2" rx="0.5" fill="#0c0c0c"/>
<rect x="262.6" y="234.6" width="2" height="2" rx="0.5" fill="#0c0c0c"/>
<rect x="267.0" y="251.0" width="2" height="2" rx="0.5" fill="#0c0c0c"/>
<rect x="270.0" y="235.6" width="2" height="2" rx="0.5" fill="#0c0c0c"/>
<rect x="273.4" y="246.6" width="2" height="2" rx="0.5" fill="#0c0c0c"/>
<rect x="275.0" y="235.4" width="2" height="2" rx="0.5" fill="#0c0c0c"/>
<rect x="279.0" y="240.0" width="2" height="2" rx="0.5" fill="#0c0c0c"/>
<rect x="279.4" y="234.6" width="2" height="2" rx="0.5" fill="#0c0c0c"/>
<rect x="281.0" y="235.4" width="2" height="2" rx="0.5" fill="#0c0c0c"/>
<rect x="281.4" y="238.6" width="2" height="2" rx="0.5" fill="#0c0c0c"/>
<rect x="282.0" y="246.0" width="2" height="2" rx="0.5" fill="#0c0c0c"/>
<rect x="281.4" y="251.0" width="2" height="2" rx="0.5" fill="#0c0c0c"/>
<rect x="283.0" y="250.6" width="2" height="2" rx="0.5" fill="#0c0c0c"/>
<rect x="286.6" y="234.0" width="2" height="2" rx="0.5" fill="#0c0c0c"/>
<rect x="287.0" y="239.6" width="2" height="2" rx="0.5" fill="#0c0c0c"/>
<rect x="288.0" y="242.6" width="2" height="2" rx="0.5" fill="#0c0c0c"/>
<rect x="289.0" y="236.0" width="2" height="2" rx="0.5" fill="#0c0c0c"/>
<rect x="290.0" y="232.6" width="2" height="2" rx="0.5" fill="#0c0c0c"/>
<rect x="291.4" y="236.6" width="2" height="2" rx="0.5" fill="#0c0c0c"/>
<rect x="294.0" y="233.4" width="2" height="2" rx="0.5" fill="#0c0c0c"/>
<rect x="294.0" y="243.4" width="2" height="2" rx="0.5" fill="#0c0c0c"/>
<rect x="297.0" y="242.0" width="2" height="2" rx="0.5" fill="#0c0c0c"/>
<rect x="299.0" y="242.4" width="2" height="2" rx="0.5" fill="#0c0c0c"/>
<rect x="302.0" y="236.6" width="2" height="2" rx="0.5" fill="#0c0c0c"/>
<rect x="303.0" y="233.4" width="2" height="2" rx="0.5" fill="#0c0c0c"/>
<rect x="305.0" y="235.0" width="2" height="2" rx="0.5" fill="#0c0c0c"/>
<rect x="302.0" y="246.6" width="2" height="2" rx="0.5" fill="#0c0c0c"/>
<rect x="305.0" y="248.6" width="2" height="2" rx="0.5" fill="#0c0c0c"/>
<rect x="306.4" y="246.0" width="2" height="2" rx="0.5" fill="#0c0c0c"/>
<rect x="310.0" y="239.4" width="2" height="2" rx="0.5" fill="#0c0c0c"/>
<rect x="311.0" y="247.4" width="2" height="2" rx="0.5" fill="#0c0c0c"/>
<rect x="312.0" y="250.6" width="2" height="2" rx="0.5" fill="#0c0c0c"/>
<rect x="313.0" y="234.0" width="2" height="2" rx="0.5" fill="#0c0c0c"/>
<rect x="313.4" y="248.6" width="2" height="2" rx="0.5" fill="#0c0c0c"/>
<rect x="315.0" y="242.4" width="2" height="2" rx="0.5" fill="#0c0c0c"/>
<rect x="317.0" y="248.6" width="2" height="2" rx="0.5" fill="#0c0c0c"/>
<rect x="326.0" y="251.6" width="2" height="2" rx="0.5" fill="#0c0c0c"/>
<rect x="329.0" y="242.0" width="2" height="2" rx="0.5" fill="#0c0c0c"/>
<rect x="329.6" y="240.0" width="2" height="2" rx="0.5" fill="#0c0c0c"/>
<rect x="333.0" y="237.6" width="2" height="2" rx="0.5" fill="#0c0c0c"/>
<rect x="336.0" y="236.0" width="2" height="2" rx="0.5" fill="#0c0c0c"/>
<rect x="336.0" y="245.4" width="2" height="2" rx="0.5" fill="#0c0c0c"/>
<rect x="338.0" y="247.0" width="2" height="2" rx="0.5" fill="#0c0c0c"/>
<rect x="339.0" y="249.0" width="2" height="2" rx="0.5" fill="#0c0c0c"/>
<rect x="339.4" y="243.0" width="2" height="2" rx="0.5" fill="#0c0c0c"/>
<rect x="340.6" y="234.6" width="2" height="2" rx="0.5" fill="#0c0c0c"/>
<rect x="341.4" y="237.0" width="2" height="2" rx="0.5" fill="#0c0c0c"/>
<rect x="342.6" y="240.6" width="2" height="2" rx="0.5" fill="#0c0c0c"/>
<rect x="343.4" y="242.0" width="2" height="2" rx="0.5" fill="#0c0c0c"/>
<rect x="344.6" y="236.0" width="2" height="2" rx="0.5" fill="#0c0c0c"/>
<rect x="346.0" y="238.0" width="2" height="2" rx="0.5" fill="#0c0c0c"/>
<rect x="345.0" y="247.0" width="2" height="2" rx="0.5" fill="#0c0c0c"/>
<rect x="346.0" y="236.6" width="2" height="2" rx="0.5" fill="#0c0c0c"/>
<rect x="348.0" y="245.0" width="2" height="2" rx="0.5" fill="#0c0c0c"/>
<rect x="349.0" y="236.0" width="2" height="2" rx="0.5" fill="#0c0c0c"/>
<rect x="350.0" y="238.0" width="2" height="2" rx="0.5" fill="#0c0c0c"/>
<rect x="349.4" y="252.4" width="2" height="2" rx="0.5" fill="#0c0c0c"/>
<rect x="350.6" y="247.0" width="2" height="2" rx="0.5" fill="#0c0c0c"/>
<rect x="351.0" y="244.0" width="2" height="2" rx="0.5" fill="#0c0c0c"/>
<rect x="352.0" y="249.0" width="2" height="2" rx="0.5" fill="#0c0c0c"/>
<rect x="352.6" y="236.6" width="2" height="2" rx="0.5" fill="#0c0c0c"/>
<rect x="353.4" y="242.0" width="2" height="2" rx="0.5" fill="#0c0c0c"/>
<rect x="354.0" y="247.0" width="2" height="2" rx="0.5" fill="#0c0c0c"/>
<rect x="355.0" y="233.4" width="2" height="2" rx="0.5" fill="#0c0c0c"/>
<rect x="355.4" y="235.4" width="2" height="2" rx="0.5" fill="#0c0c0c"/>
<rect x="355.4" y="243.0" width="2" height="2" rx="0.5" fill="#0c0c0c"/>
<rect x="356.0" y="248.6" width="2" height="2" rx="0.5" fill="#0c0c0c"/>
<rect x="357.0" y="245.0" width="2" height="2" rx="0.5" fill="#0c0c0c"/>
<rect x="358.0" y="246.6" width="2" height="2" rx="0.5" fill="#0c0c0c"/>
<rect x="358.6" y="240.0" width="2" height="2" rx="0.5" fill="#0c0c0c"/>
<rect x="359.4" y="241.0" width="2" height="2" rx="0.5" fill="#0c0c0c"/>
<rect x="360.0" y="238.0" width="2" height="2" rx="0.5" fill="#0c0c0c"/>
<rect x="360.0" y="249.0" width="2" height="2" rx="0.5" fill="#0c0c0c"/>
<rect x="361.4" y="236.6" width="2" height="2" rx="0.5" fill="#0c0c0c"/>
<rect x="362.6" y="235.0" width="2" height="2" rx="0.5" fill="#0c0c0c"/>
<rect x="363.0" y="239.0" width="2" height="2" rx="0.5" fill="#0c0c0c"/>
<rect x="363.0" y="252.0" width="2" height="2" rx="0.5" fill="#0c0c0c"/>
<rect x="364.6" y="243.0" width="2" height="2" rx="0.5" fill="#0c0c0c"/>
<rect x="365.0" y="252.0" width="2" height="2" rx="0.5" fill="#0c0c0c"/>
<rect x="366.0" y="236.6" width="2" height="2" rx="0.5" fill="#0c0c0c"/>
<rect x="367.0" y="241.0" width="2" height="2" rx="0.5" fill="#0c0c0c"/>
<rect x="367.4" y="235.0" width="2" height="2" rx="0.5" fill="#0c0c0c"/>
<rect x="368.0" y="243.0" width="2" height="2" rx="0.5" fill="#0c0c0c"/>
<rect x="368.4" y="246.6" width="2" height="2" rx="0.5" fill="#0c0c0c"/>
<rect x="369.0" y="251.0" width="2" height="2" rx="0.5" fill="#0c0c0c"/>
<rect x="369.6" y="238.0" width="2" height="2" rx="0.5" fill="#0c0c0c"/>
<rect x="371.0" y="236.6" width="2" height="2" rx="0.5" fill="#0c0c0c"/>
<rect x="371.4" y="241.0" width="2" height="2" rx="0.5" fill="#0c0c0c"/>
<rect x="372.0" y="244.0" width="2" height="2" rx="0.5" fill="#0c0c0c"/>
<rect x="373.0" y="248.0" width="2" height="2" rx="0.5" fill="#0c0c0c"/>
<rect x="373.4" y="243.0" width="2" height="2" rx="0.5" fill="#0c0c0c"/>
<rect x="374.6" y="246.0" width="2" height="2" rx="0.5" fill="#0c0c0c"/>
<rect x="375.0" y="238.0" width="2" height="2" rx="0.5" fill="#0c0c0c"/>
<rect x="376.0" y="249.4" width="2" height="2" rx="0.5" fill="#0c0c0c"/>
<rect x="377.0" y="241.0" width="2" height="2" rx="0.5" fill="#0c0c0c"/>
<rect x="378.0" y="244.0" width="2" height="2" rx="0.5" fill="#0c0c0c"/>
<rect x="378.6" y="239.0" width="2" height="2" rx="0.5" fill="#0c0c0c"/>
<rect x="380.0" y="239.0" width="2" height="2" rx="0.5" fill="#0c0c0c"/>
<rect x="381.0" y="237.4" width="2" height="2" rx="0.5" fill="#0c0c0c"/>
<rect x="382.0" y="242.0" width="2" height="2" rx="0.5" fill="#0c0c0c"/>
<rect x="381.4" y="248.0" width="2" height="2" rx="0.5" fill="#0c0c0c"/>
<rect x="380.6" y="252.6" width="2" height="2" rx="0.5" fill="#0c0c0c"/>
<rect x="383.0" y="249.6" width="2" height="2" rx="0.5" fill="#0c0c0c"/>
<rect x="383.4" y="234.6" width="2" height="2" rx="0.5" fill="#0c0c0c"/>
<rect x="384.6" y="236.0" width="2" height="2" rx="0.5" fill="#0c0c0c"/>
<rect x="385.0" y="240.0" width="2" height="2" rx="0.5" fill="#0c0c0c"/>
<rect x="386.0" y="244.6" width="2" height="2" rx="0.5" fill="#0c0c0c"/>
<rect x="387.0" y="233.4" width="2" height="2" rx="0.5" fill="#0c0c0c"/>
<rect x="388.0" y="234.6" width="2" height="2" rx="0.5" fill="#0c0c0c"/>
<rect x="391.4" y="241.4" width="2" height="2" rx="0.5" fill="#0c0c0c"/>
<rect x="393.0" y="241.0" width="2" height="2" rx="0.5" fill="#0c0c0c"/>
<rect x="393.4" y="246.0" width="2" height="2" rx="0.5" fill="#0c0c0c"/>
<rect x="394.0" y="249.0" width="2" height="2" rx="0.5" fill="#0c0c0c"/>
<rect x="395.0" y="240.6" width="2" height="2" rx="0.5" fill="#0c0c0c"/>
<rect x="395.4" y="244.0" width="2" height="2" rx="0.5" fill="#0c0c0c"/>
<rect x="396.6" y="240.0" width="2" height="2" rx="0.5" fill="#0c0c0c"/>
<rect x="396.0" y="251.0" width="2" height="2" rx="0.5" fill="#0c0c0c"/>
<rect x="398.0" y="252.0" width="2" height="2" rx="0.5" fill="#0c0c0c"/>
<rect x="399.0" y="242.0" width="2" height="2" rx="0.5" fill="#0c0c0c"/>
<rect x="398.6" y="247.0" width="2" height="2" rx="0.5" fill="#0c0c0c"/>
<rect x="402.0" y="245.0" width="2" height="2" rx="0.5" fill="#0c0c0c"/>
<rect x="403.0" y="243.0" width="2" height="2" rx="0.5" fill="#0c0c0c"/>
<rect x="404.0" y="242.0" width="2" height="2" rx="0.5" fill="#0c0c0c"/>
<rect x="405.0" y="248.0" width="2" height="2" rx="0.5" fill="#0c0c0c"/>
<rect x="405.6" y="235.0" width="2" height="2" rx="0.5" fill="#0c0c0c"/>
<rect x="406.6" y="236.0" width="2" height="2" rx="0.5" fill="#0c0c0c"/>
<rect x="406.6" y="250.0" width="2" height="2" rx="0.5" fill="#0c0c0c"/>
<rect x="407.0" y="242.0" width="2" height="2" rx="0.5" fill="#0c0c0c"/>
<rect x="408.0" y="252.0" width="2" height="2" rx="0.5" fill="#0c0c0c"/>
<rect x="409.0" y="240.6" width="2" height="2" rx="0.5" fill="#0c0c0c"/>
<rect x="409.0" y="253.0" width="2" height="2" rx="0.5" fill="#0c0c0c"/>
<rect x="410.0" y="237.0" width="2" height="2" rx="0.5" fill="#0c0c0c"/>
<rect x="411.0" y="239.0" width="2" height="2" rx="0.5" fill="#0c0c0c"/>
<rect x="411.4" y="241.0" width="2" height="2" rx="0.5" fill="#0c0c0c"/>
<rect x="412.0" y="236.0" width="2" height="2" rx="0.5" fill="#0c0c0c"/>
<rect x="412.6" y="242.6" width="2" height="2" rx="0.5" fill="#0c0c0c"/>
<rect x="414.0" y="248.6" width="2" height="2" rx="0.5" fill="#0c0c0c"/>
<rect x="414.0" y="252.6" width="2" height="2" rx="0.5" fill="#0c0c0c"/>
<rect x="416.6" y="237.4" width="2" height="2" rx="0.5" fill="#0c0c0c"/>
<rect x="418.0" y="234.6" width="2" height="2" rx="0.5" fill="#0c0c0c"/>
<rect x="418.6" y="236.0" width="2" height="2" rx="0.5" fill="#0c0c0c"/>
<rect x="420.0" y="233.4" width="2" height="2" rx="0.5" fill="#0c0c0c"/>
<rect x="421.0" y="236.0" width="2" height="2" rx="0.5" fill="#0c0c0c"/>
<rect x="420.6" y="242.0" width="2" height="2" rx="0.5" fill="#0c0c0c"/>
<rect x="420.6" y="248.6" width="2" height="2" rx="0.5" fill="#0c0c0c"/>
<rect x="424.0" y="234.0" width="2" height="2" rx="0.5" fill="#0c0c0c"/>
<rect x="425.4" y="237.4" width="2" height="2" rx="0.5" fill="#0c0c0c"/>
<rect x="427.0" y="237.6" width="2" height="2" rx="0.5" fill="#0c0c0c"/>
<rect x="426.0" y="245.0" width="2" height="2" rx="0.5" fill="#0c0c0c"/>
<rect x="426.6" y="248.0" width="2" height="2" rx="0.5" fill="#0c0c0c"/>
<rect x="428.0" y="248.0" width="2" height="2" rx="0.5" fill="#0c0c0c"/>
<rect x="432.6" y="239.0" width="2" height="2" rx="0.5" fill="#0c0c0c"/>
<rect x="433.0" y="248.6" width="2" height="2" rx="0.5" fill="#0c0c0c"/>
<rect x="434.6" y="243.4" width="2" height="2" rx="0.5" fill="#0c0c0c"/>
<rect x="436.6" y="250.0" width="2" height="2" rx="0.5" fill="#0c0c0c"/>
<rect x="437.4" y="235.0" width="2" height="2" rx="0.5" fill="#0c0c0c"/>
<rect x="438.4" y="238.0" width="2" height="2" rx="0.5" fill="#0c0c0c"/>
<rect x="441.4" y="240.0" width="2" height="2" rx="0.5" fill="#0c0c0c"/>
<rect x="442.0" y="234.6" width="2" height="2" rx="0.5" fill="#0c0c0c"/>
<rect x="452.0" y="235.0" width="2" height="2" rx="0.5" fill="#0c0c0c"/>
<rect x="453.0" y="246.6" width="2" height="2" rx="0.5" fill="#0c0c0c"/>
<rect x="454.6" y="247.4" width="2" height="2" rx="0.5" fill="#0c0c0c"/>
<rect x="456.0" y="248.0" width="2" height="2" rx="0.5" fill="#0c0c0c"/>
<rect x="460.0" y="240.6" width="2" height="2" rx="0.5" fill="#0c0c0c"/>
<rect x="465.0" y="240.6" width="2" height="2" rx="0.5" fill="#0c0c0c"/>
<rect x="506.4" y="237.0" width="2" height="2" rx="0.5" fill="#0c0c0c"/>
<rect x="506.6" y="243.0" width="2" height="2" rx="0.5" fill="#0c0c0c"/>
<rect x="506.6" y="251.0" width="2" height="2" rx="0.5" fill="#0c0c0c"/>
<rect x="522.6" y="243.0" width="2" height="2" rx="0.5" fill="#0c0c0c"/>
<rect x="522.6" y="252.0" width="2" height="2" rx="0.5" fill="#0c0c0c"/>
<text x="109.2" y="50.0" textLength="46.4" lengthAdjust="spacingAndGlyphs" font-family="'Liberation Sans', sans-serif" font-size="6.8" fill="#5e5e5e">middle of crown</text>
<text x="116" y="115.5" textLength="39.6" lengthAdjust="spacingAndGlyphs" font-family="'Liberation Sans', sans-serif" font-size="6.8" fill="#5e5e5e">base of crown</text>
<text x="143.6" y="180.9" textLength="12" lengthAdjust="spacingAndGlyphs" font-family="'Liberation Sans', sans-serif" font-size="6.8" fill="#5e5e5e">DBH</text>
<text x="143.5" y="246.2" textLength="13.6" lengthAdjust="spacingAndGlyphs" font-family="'Liberation Sans', sans-serif" font-size="6.8" fill="#5e5e5e">base</text>
<text x="163.9" y="291.4" textLength="12" lengthAdjust="spacingAndGlyphs" font-family="'Liberation Sans', sans-serif" font-size="8.1" fill="#555">300</text>
<text x="224.9" y="291.4" textLength="12" lengthAdjust="spacingAndGlyphs" font-family="'Liberation Sans', sans-serif" font-size="8.1" fill="#555">400</text>
<text x="285.9" y="291.4" textLength="12" lengthAdjust="spacingAndGlyphs" font-family="'Liberation Sans', sans-serif" font-size="8.1" fill="#555">500</text>
<text x="346.9" y="291.4" textLength="12" lengthAdjust="spacingAndGlyphs" font-family="'Liberation Sans', sans-serif" font-size="8.1" fill="#555">600</text>
<text x="407.9" y="291.4" textLength="12" lengthAdjust="spacingAndGlyphs" font-family="'Liberation Sans', sans-serif" font-size="8.1" fill="#555">700</text>
<text x="468.9" y="291.4" textLength="12" lengthAdjust="spacingAndGlyphs" font-family="'Liberation Sans', sans-serif" font-size="8.1" fill="#555">800</text>
<text x="529.9" y="291.4" textLength="12" lengthAdjust="spacingAndGlyphs" font-family="'Liberation Sans', sans-serif" font-size="8.1" fill="#555">900</text>
<text transform="translate(107.2,172.7) rotate(-90)" font-family="'Liberation Sans', sans-serif" font-size="8.7" textLength="54.4" lengthAdjust="spacing" fill="#111">relative height</text>
<text x="305.6" y="307.6" textLength="56" lengthAdjust="spacingAndGlyphs" font-family="'Liberation Sans', sans-serif" font-size="10" fill="#222" stroke="#222" stroke-width="0.2">basic density</text>
<text x="364" y="307.6" textLength="34" lengthAdjust="spacingAndGlyphs" font-family="'Liberation Sans', sans-serif" font-size="10" fill="#222" stroke="#222" stroke-width="0.2">(kg·m<tspan dy="-3" font-size="6.5">−3</tspan><tspan dy="3">)</tspan></text>
<rect x="389.3" y="294.2" width="1.4" height="0.7" fill="#777"/>
</svg>
</body></html>
